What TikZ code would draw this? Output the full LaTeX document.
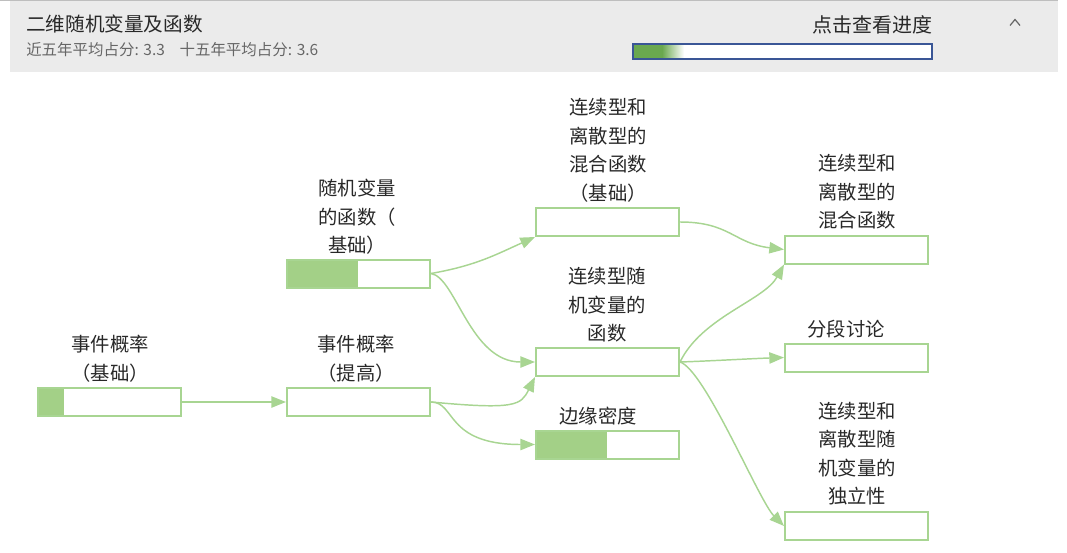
\documentclass[tikz,border=0pt]{standalone}
\usepackage{fontspec}
\newfontfamily\cjk{Noto Sans CJK SC}
\usetikzlibrary{arrows.meta}
\definecolor{boxgreen}{RGB}{168,213,146}
\definecolor{barfill}{RGB}{163,208,135}
\definecolor{hdrbg}{RGB}{235,235,235}
\definecolor{hdrline}{RGB}{190,190,190}
\definecolor{progblue}{RGB}{58,86,150}
\definecolor{proggreen}{RGB}{106,168,79}
\definecolor{txt}{RGB}{40,40,40}
\tikzset{
  box/.style={draw=boxgreen, line width=1.5pt, rectangle, minimum width=107.25pt, minimum height=21pt, inner sep=0pt, fill=white},
  barA/.style={path picture={\fill[barfill] (path picture bounding box.north west) rectangle ([xshift=#1]path picture bounding box.south west);}},
  lbl/.style={font=\cjk\fontsize{14.5pt}{21.4pt}\selectfont, text=txt, align=center, inner sep=0pt},
  edge/.style={draw=boxgreen, line width=1.1pt, -{Triangle[length=11pt,width=8.5pt]}},
}
\begin{document}
\begin{tikzpicture}[x=0.75pt,y=-0.75pt]
\useasboundingbox (0,0) rectangle (1067,553);
% header
\fill[hdrbg] (10,1) rectangle (1058,72);
\draw[hdrline, line width=1.2pt] (0,0.6) -- (1058,0.6);
\node[anchor=west, inner sep=0pt, font=\cjk\fontsize{14.7pt}{16pt}\selectfont, text=txt] (title) at (26,24) {二维随机变量及函数};
\node[anchor=west, inner sep=0pt, font=\cjk\fontsize{11.6pt}{13pt}\selectfont, text=black!60] (sub) at (26,50) {近五年平均占分: 3.3\hspace{11pt}十五年平均占分: 3.6};
\node[anchor=east, inner sep=0pt, font=\cjk\fontsize{15pt}{17pt}\selectfont, text=txt] (prog) at (933,25) {点击查看进度};
\coordinate (caret) at (1015,19.5);
\draw[black!60, line width=0.9pt, line join=miter] ([shift={(-5,6)}]caret) -- (caret) -- ([shift={(5,6)}]caret);
\fill[white] (633,44) rectangle (932,59);
\fill[proggreen] (633,44) rectangle (662,59);
\shade[left color=proggreen, right color=white] (662,44) rectangle (684,59);
\draw[progblue, line width=0.9pt] (633,44) rectangle (932,59);
% boxes
\node[box, barA=19.5pt] (A) at (109.5,402) {};
\node[box] (B) at (358.5,402) {};
\node[box, barA=53.25pt] (C) at (358.5,273.5) {};
\node[box] (D) at (607.5,222) {};
\node[box] (E) at (607.5,362) {};
\node[box, barA=53.25pt] (F) at (607.5,444.5) {};
\node[box] (G) at (856.5,249.5) {};
\node[box] (H) at (856.5,357.5) {};
\node[box] (I) at (856.5,526) {};
% labels
\node[lbl] (lA) at (110,359) {事件概率\\（基础）};
\node[lbl] (lB) at (356,359) {事件概率\\（提高）};
\node[lbl] (lC) at (357,217) {随机变量\\的函数（\\基础）};
\node[lbl] (lD) at (608,150.5) {连续型和\\离散型的\\混合函数\\（基础）};
\node[lbl] (lE) at (607,305) {连续型随\\机变量的\\函数};
\node[lbl] (lF) at (598,416) {边缘密度};
\node[lbl] (lG) at (857,192) {连续型和\\离散型的\\混合函数};
\node[lbl] (lH) at (846,329) {分段讨论};
\node[lbl] (lI) at (857,453.5) {连续型和\\离散型随\\机变量的\\独立性};
% edges
\draw[edge] (A.east) -- (B.west);
\draw[edge] (C.east) .. controls +(45,-8) and +(-40,18) .. (D.south west);
\draw[edge] (C.east) .. controls +(25,4) and +(-65,0) .. (E.west);
\draw[edge] (B.east) .. controls +(85,8) and +(-14,28) .. (E.south west);
\draw[edge] (B.east) .. controls +(25,0) and +(-90,0) .. (F.west);
\draw[edge] (D.east) .. controls +(50,0) and +(-50,-6) .. (G.west);
\draw[edge] (E.east) .. controls +(22,-45) and +(-20,36) .. (G.south west);
\draw[edge] (E.east) .. controls +(30,-1) and +(-30,1) .. (H.west);
\draw[edge] (E.east) .. controls +(25,8) and +(-25,-25) .. (I.west);
\end{tikzpicture}
\end{document}
